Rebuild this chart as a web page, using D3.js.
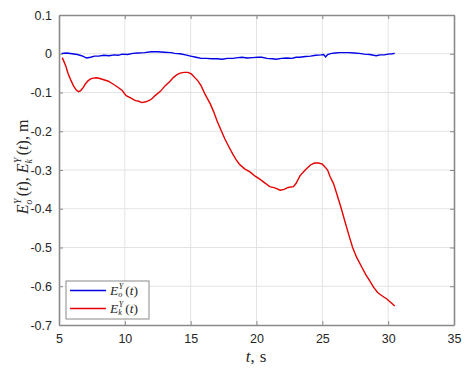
<!DOCTYPE html>
<html><head><meta charset="utf-8">
<script src="https://cdn.jsdelivr.net/npm/d3@7"></script>
<style>body{margin:0;background:#fff}svg{display:block}</style>
</head><body>
<svg id="c" width="474" height="368"></svg>
<script>
const xTicks = [5,10,15,20,25,30,35];
const yTicks = [0.1,0,-0.1,-0.2,-0.3,-0.4,-0.5,-0.6,-0.7];
const yTickLabels = ["0.1","0","-0.1","-0.2","-0.3","-0.4","-0.5","-0.6","-0.7"];

const blueT = [5.2,5.6,6.0,6.4,6.8,7.1,7.4,7.7,8.0,8.4,8.8,9.2,9.5,9.8,10.2,10.6,11.0,11.5,12.0,12.5,13.0,13.5,13.8,14.2,14.6,15.0,15.4,15.8,16.2,16.6,17.0,17.4,17.8,18.2,18.6,18.9,19.3,19.7,20.1,20.4,20.8,21.2,21.5,21.9,22.3,22.7,23.0,23.3,23.7,24.1,24.5,24.9,25.1,25.25,25.4,25.7,26.0,26.3,26.6,27.0,27.4,27.8,28.2,28.6,28.9,29.1,29.4,29.7,30.0,30.3,30.5];
const blueV = [0.001,0.002,0.000,-0.002,-0.006,-0.011,-0.009,-0.006,-0.006,-0.004,-0.005,-0.003,-0.004,-0.001,-0.002,0.001,0.002,0.003,0.005,0.005,0.004,0.003,0.001,0.000,-0.003,-0.006,-0.009,-0.012,-0.012,-0.013,-0.013,-0.014,-0.012,-0.012,-0.010,-0.009,-0.011,-0.010,-0.009,-0.009,-0.012,-0.013,-0.014,-0.012,-0.011,-0.012,-0.009,-0.009,-0.007,-0.006,-0.004,-0.003,-0.002,-0.008,-0.002,0.001,0.002,0.003,0.003,0.003,0.002,0.001,-0.001,-0.002,-0.004,-0.005,-0.003,-0.003,-0.001,0.000,0.001];

const redT = [5.25,5.5,5.7,5.9,6.1,6.3,6.47,6.65,6.85,7.0,7.2,7.4,7.6,7.85,8.1,8.4,8.75,9.1,9.5,9.8,10.1,10.4,10.8,11.0,11.3,11.6,11.9,12.1,12.3,12.7,13.05,13.4,13.7,14.0,14.2,14.5,14.8,15.05,15.3,15.55,15.8,16.1,16.5,16.75,17.0,17.3,17.6,17.9,18.2,18.45,18.7,19.1,19.5,19.9,20.3,20.7,21.0,21.4,21.8,22.1,22.4,22.8,23.0,23.3,23.7,24.1,24.4,24.7,25.0,25.2,25.4,25.6,25.85,26.1,26.4,26.7,27.0,27.3,27.6,28.0,28.3,28.6,28.9,29.2,29.5,29.9,30.2,30.5];
const redV = [-0.010,-0.030,-0.052,-0.068,-0.083,-0.093,-0.098,-0.095,-0.087,-0.078,-0.070,-0.065,-0.063,-0.062,-0.064,-0.067,-0.071,-0.078,-0.087,-0.095,-0.108,-0.113,-0.121,-0.122,-0.126,-0.124,-0.120,-0.115,-0.108,-0.097,-0.083,-0.072,-0.061,-0.053,-0.050,-0.048,-0.048,-0.052,-0.061,-0.070,-0.083,-0.105,-0.130,-0.150,-0.173,-0.197,-0.220,-0.240,-0.259,-0.273,-0.285,-0.297,-0.305,-0.316,-0.325,-0.335,-0.343,-0.346,-0.352,-0.350,-0.345,-0.343,-0.335,-0.315,-0.300,-0.287,-0.282,-0.282,-0.285,-0.292,-0.300,-0.318,-0.335,-0.362,-0.395,-0.431,-0.466,-0.500,-0.525,-0.551,-0.570,-0.586,-0.603,-0.616,-0.624,-0.633,-0.642,-0.651];

const svg = d3.select("#c");
const L = 59, R = 454, T = 15, B = 325;
const x = d3.scaleLinear().domain([5,35]).range([L,R]);
const y = d3.scaleLinear().domain([-0.7,0.1]).range([B,T]);

// grid
const g = svg.append("g");
g.selectAll(".gx").data(xTicks.slice(1,-1)).enter().append("line")
  .attr("x1",d=>x(d)).attr("x2",d=>x(d)).attr("y1",T).attr("y2",B)
  .attr("stroke","#e3e3e3").attr("stroke-width",1);
g.selectAll(".gy").data(yTicks.slice(1,-1)).enter().append("line")
  .attr("y1",d=>y(d)).attr("y2",d=>y(d)).attr("x1",L).attr("x2",R)
  .attr("stroke","#e3e3e3").attr("stroke-width",1);

// axes with inward ticks
const axCol = "#8a8a8a";
const axB = svg.append("g").attr("transform",`translate(0,${B})`)
  .call(d3.axisBottom(x).tickValues(xTicks).tickSizeInner(-4).tickSizeOuter(0).tickPadding(9));
const axL = svg.append("g").attr("transform",`translate(${L},0)`)
  .call(d3.axisLeft(y).tickValues(yTicks).tickFormat((d,i)=>yTickLabels[i]).tickSizeInner(-4).tickSizeOuter(0).tickPadding(7));
const axT = svg.append("g").attr("transform",`translate(0,${T})`)
  .call(d3.axisTop(x).tickValues(xTicks).tickSizeInner(-4).tickSizeOuter(0).tickFormat(""));
const axR = svg.append("g").attr("transform",`translate(${R},0)`)
  .call(d3.axisRight(y).tickValues(yTicks).tickSizeInner(-4).tickSizeOuter(0).tickFormat(""));
[axB,axL,axT,axR].forEach(a=>{
  a.select(".domain").attr("stroke",axCol).attr("stroke-width",1.6);
  a.selectAll(".tick line").attr("stroke",axCol).attr("stroke-width",1);
  a.selectAll("text").attr("fill","#262626").style("font-family","'Liberation Sans',Arial,sans-serif").style("font-size","12.5px");
});

// lines
const line = d3.line().x(d=>x(d[0])).y(d=>y(d[1]));
svg.append("path").datum(blueT.map((t,i)=>[t,blueV[i]]))
  .attr("d",line).attr("fill","none").attr("stroke","#0000e6").attr("stroke-width",1.4);
svg.append("path").datum(redT.map((t,i)=>[t,redV[i]]))
  .attr("d",line).attr("fill","none").attr("stroke","#e60000").attr("stroke-width",1.4);

// math text helper: lays out pieces as separate text elements in a group (local baseline y=0)
const serif = "'Liberation Serif','DejaVu Serif',serif";
function piece(gr, txt, xx, yy, size, italic){
  const t = gr.append("text").attr("x",xx).attr("y",yy).text(txt)
    .style("font-family",serif).style("font-size",size+"px")
    .style("font-style",italic?"italic":"normal").attr("fill","#262626");
  return t.node().getComputedTextLength();
}
function mathE(gr, x0, sub, s){
  let cx = x0;
  cx += piece(gr,"E",cx,0,s,true);
  const w1 = piece(gr,"Y",cx+0.5,-0.42*s,0.6*s,true);
  const w2 = piece(gr,sub,cx,0.22*s,0.6*s,true);
  cx += Math.max(w1+0.5,w2) + 0.15*s;
  cx += piece(gr,"(",cx,0,s,false);
  cx += piece(gr,"t",cx,0,s,true);
  cx += piece(gr,")",cx,0,s,false);
  return cx;
}

// legend
const lg = svg.append("g");
lg.append("rect").attr("x",66).attr("y",281).attr("width",83).attr("height",38)
  .attr("fill","#fff").attr("stroke","#8a8a8a").attr("stroke-width",1);
const items = [["o","#0000e6",290.5],["k","#e60000",308.5]];
items.forEach(([s,c,yy])=>{
  lg.append("line").attr("x1",70).attr("x2",106).attr("y1",yy).attr("y2",yy).attr("stroke",c).attr("stroke-width",1.4);
  const gg = lg.append("g").attr("transform",`translate(0,${yy+4})`);
  mathE(gg,110,s,13.5);
});

// x label
const xlg = svg.append("g").attr("transform","translate(0,362)");
(function(){
  const tmp = xlg.append("g");
  let cx = 0;
  cx += piece(tmp,"t",cx,0,17,true);
  cx += piece(tmp,",",cx,0,17,false);
  cx += piece(tmp,"s",cx+5,0,17,false) + 5;
  tmp.attr("transform",`translate(${256 - cx/2},0)`);
})();

// y label (rotated)
const ylg = svg.append("g").attr("transform","translate(28,167) rotate(-90)");
(function(){
  const tmp = ylg.append("g");
  const s = 16;
  let cx = mathE(tmp,0,"o",s);
  cx += piece(tmp,",",cx,0,s,false) + 0.25*s;
  cx = mathE(tmp,cx,"k",s);
  cx += piece(tmp,",",cx,0,s,false) + 0.25*s;
  cx += piece(tmp,"m",cx,0,s,false);
  tmp.attr("transform",`translate(${-cx/2},0)`);
})();
</script>
</body></html>
